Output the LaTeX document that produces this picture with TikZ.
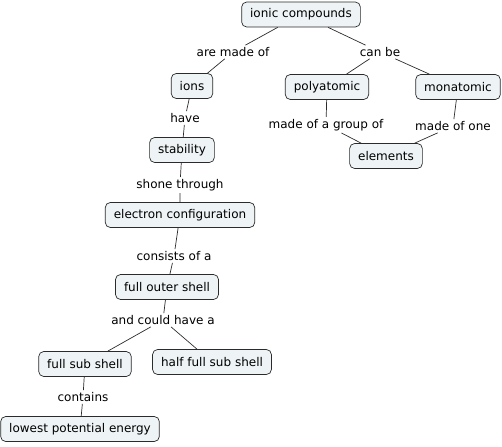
\documentclass[tikz,border=0pt]{standalone}
\usepackage{fontspec}
\setmainfont{DejaVu Sans}
\usetikzlibrary{positioning}
\definecolor{cmfill}{HTML}{EEF3F5}
\definecolor{cmline}{HTML}{2B2B2B}

\begin{document}
\begin{tikzpicture}[
    x=1pt, y=-1pt,
    concept/.style={rectangle, rounded corners=5pt, draw=cmline, fill=cmfill,
                    minimum height=25pt, inner xsep=8.5pt, font=\fontsize{12}{14}\selectfont,
                    line width=0.7pt},
    linkword/.style={inner sep=2pt, fill=white, font=\fontsize{12}{14}\selectfont},
    link/.style={draw=cmline, line width=0.7pt}
  ]
    \useasboundingbox (0,0) rectangle (502,446);
    % concepts
    \node[concept] (ionic) at (301,14.5) {ionic compounds};
    \node[concept] (ions) at (192,86) {ions};
    \node[concept] (poly) at (327,87) {polyatomic};
    \node[concept] (mono) at (458,87) {monatomic};
    \node[concept] (elem) at (386,156) {elements};
    \node[concept] (stab) at (182,150) {stability};
    \node[concept] (econf) at (180,215) {electron configuration};
    \node[concept] (outer) at (167,287) {full outer shell};
    \node[concept] (fullsub) at (85,364) {full sub shell};
    \node[concept] (halfsub) at (212,362) {half full sub shell};
    \node[concept] (lowest) at (80,429) {lowest potential energy};

    % linking phrases
    \node[linkword] (madeof) at (233,52) {are made of};
    \node[linkword] (canbe) at (380,52) {can be};
    \node[linkword] (have) at (185,118) {have};
    \node[linkword] (group) at (326,125) {made of a group of};
    \node[linkword] (one) at (453,126) {made of one};
    \node[linkword] (shone) at (180,185) {shone through};
    \node[linkword] (consists) at (174,256) {consists of a};
    \node[linkword] (could) at (163,320) {and could have a};
    \node[linkword] (contains) at (83,397) {contains};

    \draw[link] (ionic) -- (madeof) -- (ions);
    \draw[link] (ionic) -- (canbe) -- (poly);
    \draw[link] (canbe) -- (mono);
    \draw[link] (ions) -- (have) -- (stab);
    \draw[link] (poly) -- (group) -- (elem);
    \draw[link] (mono) -- (one) -- (elem);
    \draw[link] (stab) -- (shone) -- (econf);
    \draw[link] (econf) -- (consists) -- (outer);
    \draw[link] (outer) -- (could) -- (fullsub);
    \draw[link] (could) -- (halfsub);
    \draw[link] (fullsub) -- (contains) -- (lowest);
  \end{tikzpicture}
\end{document}
